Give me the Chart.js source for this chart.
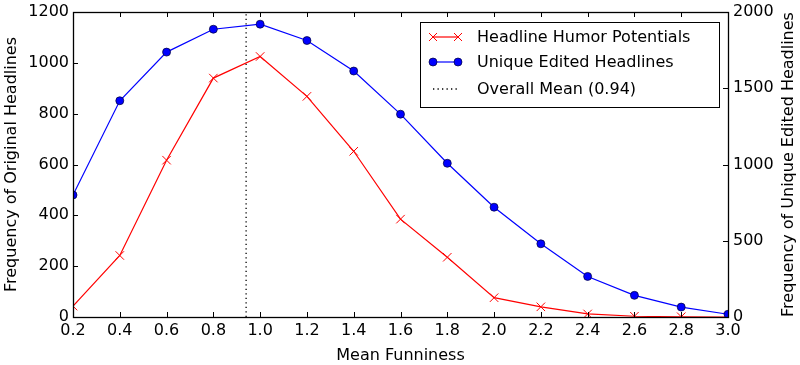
<!DOCTYPE html>
<html>
<head>
<meta charset="utf-8">
<script src="https://cdn.jsdelivr.net/npm/chart.js@4.4.1/dist/chart.umd.min.js"></script>
<style>
  html, body { margin: 0; padding: 0; background: #fff; }
  #wrap { width: 800px; height: 365px; }
</style>
</head>
<body>
<div id="wrap"><canvas id="grafico" width="800" height="365"></canvas></div>
<script>
// valores
const funniness = [0.2, 0.4, 0.6, 0.8, 1.0, 1.2, 1.4, 1.6, 1.8, 2.0, 2.2, 2.4, 2.6, 2.8, 3.0]
const humorPotentials = [43, 242, 617, 940, 1025, 868, 652, 385, 235, 76, 40, 12, 3, 1, 0]
const uniqueEdited = [800, 1418, 1737, 1887, 1920, 1813, 1613, 1330, 1008, 720, 480, 266, 142, 65, 18]
const overallMean = 0.94
const xTicks = [0.2, 0.4, 0.6, 0.8, 1.0, 1.2, 1.4, 1.6, 1.8, 2.0, 2.2, 2.4, 2.6, 2.8, 3.0]
const leftTicks = [0, 200, 400, 600, 800, 1000, 1200]
const rightTicks = [0, 500, 1000, 1500, 2000]
const rightTitle = 'Frequency of Unique Edited Headlines'

const fonte = 'DejaVu Sans'

function pares(xs, ys) {
    let out = []
    for (let i in xs) out.push({x: xs[i], y: ys[i]})
    return out
}

// moldura, ticks para dentro, título da direita e legenda dentro do gráfico
const molduraPlugin = {
    id: 'moldura',
    afterDraw(chart) {
        const ctx = chart.ctx
        const a = chart.chartArea
        const sx = chart.scales.x, sy = chart.scales.y, sy2 = chart.scales.y2
        ctx.save()
        ctx.strokeStyle = '#000'
        ctx.lineWidth = 1
        ctx.beginPath()
        for (let t of xTicks) {
            let px = Math.round(sx.getPixelForValue(t)) + 0.5
            ctx.moveTo(px, a.bottom); ctx.lineTo(px, a.bottom - 5)
            ctx.moveTo(px, a.top); ctx.lineTo(px, a.top + 5)
        }
        for (let t of leftTicks) {
            let py = Math.round(sy.getPixelForValue(t)) + 0.5
            ctx.moveTo(a.left, py); ctx.lineTo(a.left + 5, py)
        }
        for (let t of rightTicks) {
            let py = Math.round(sy2.getPixelForValue(t)) + 0.5
            ctx.moveTo(a.right, py); ctx.lineTo(a.right - 5, py)
        }
        ctx.stroke()
        ctx.lineWidth = 1.3
        ctx.strokeRect(Math.round(a.left) + 0.5, Math.round(a.top) + 0.5, Math.round(a.right - a.left), Math.round(a.bottom - a.top))

        // título do eixo da direita (lido de baixo para cima)
        ctx.save()
        ctx.translate(789, (a.top + a.bottom) / 2)
        ctx.rotate(-Math.PI / 2)
        ctx.font = '16px "' + fonte + '"'
        ctx.fillStyle = '#000'
        ctx.textAlign = 'center'
        ctx.textBaseline = 'middle'
        ctx.fillText(rightTitle, 0, 0)
        ctx.restore()

        // legenda
        const bx = 420.5, by = 22.5, bw = 299, bh = 85
        ctx.fillStyle = '#fff'
        ctx.fillRect(bx, by, bw, bh)
        ctx.lineWidth = 1
        ctx.strokeStyle = '#000'
        ctx.strokeRect(bx, by, bw, bh)
        const linhas = [37, 62, 89]
        const x0 = 433, x1 = 458
        ctx.font = '16px "' + fonte + '"'
        ctx.textBaseline = 'middle'
        ctx.textAlign = 'left'
        chart.data.datasets.forEach((ds, i) => {
            let y = linhas[i]
            ctx.strokeStyle = ds.borderColor
            ctx.lineWidth = ds.borderWidth
            ctx.setLineDash(ds.borderDash || [])
            ctx.beginPath()
            ctx.moveTo(x0, y); ctx.lineTo(x1, y)
            ctx.stroke()
            ctx.setLineDash([])
            ctx.lineWidth = 1
            for (let px of [x0, x1]) {
                if (ds.pointStyle === 'crossRot') {
                    ctx.strokeStyle = ds.borderColor
                    ctx.beginPath()
                    ctx.moveTo(px - 4, y - 4); ctx.lineTo(px + 4, y + 4)
                    ctx.moveTo(px - 4, y + 4); ctx.lineTo(px + 4, y - 4)
                    ctx.stroke()
                } else if (ds.pointStyle === 'circle' && ds.pointRadius > 0) {
                    ctx.fillStyle = ds.pointBackgroundColor
                    ctx.strokeStyle = ds.pointBorderColor
                    ctx.lineWidth = ds.pointBorderWidth
                    ctx.beginPath()
                    ctx.arc(px, y, ds.pointRadius, 0, Math.PI * 2)
                    ctx.fill(); ctx.stroke()
                }
            }
            ctx.fillStyle = '#000'
            ctx.fillText(ds.label, 477, y + 1)
        })
        ctx.restore()
    }
}

const data = {
    datasets: [
        {
            label: 'Headline Humor Potentials',
            data: pares(funniness, humorPotentials),
            yAxisID: 'y',
            borderColor: '#ff0000',
            backgroundColor: '#ff0000',
            borderWidth: 1.2,
            pointStyle: 'crossRot',
            pointRadius: 6,
            pointBorderColor: '#ff0000',
            pointBorderWidth: 1,
            clip: 0,
            order: 2
        },
        {
            label: 'Unique Edited Headlines',
            data: pares(funniness, uniqueEdited),
            yAxisID: 'y2',
            borderColor: '#0000ff',
            backgroundColor: '#0000ff',
            borderWidth: 1.2,
            pointStyle: 'circle',
            pointRadius: 4,
            pointBackgroundColor: '#0000ff',
            pointBorderColor: '#000033',
            pointBorderWidth: 0.7,
            clip: 0,
            order: 1
        },
        {
            label: 'Overall Mean (' + overallMean + ')',
            data: [{x: overallMean, y: 0}, {x: overallMean, y: 1200}],
            yAxisID: 'y',
            borderColor: '#000000',
            borderWidth: 1.3,
            borderDash: [1.3, 3.2],
            pointStyle: false,
            pointRadius: 0,
            clip: 0,
            order: 3
        }
    ]
}

const config = {
    type: 'line',
    data: data,
    options: {
        responsive: false,
        animation: false,
        layout: { padding: { top: 12, left: 0, right: 0, bottom: 0 } },
        plugins: {
            legend: { display: false },
            tooltip: { enabled: false }
        },
        scales: {
            x: {
                type: 'linear',
                min: 0.2,
                max: 3.0,
                afterBuildTicks: (s) => { s.ticks = xTicks.map(v => ({value: v})) },
                afterFit: (s) => { s.height = 48 },
                grid: { display: false, drawTicks: false },
                border: { display: false },
                ticks: {
                    autoSkip: false,
                    maxRotation: 0,
                    padding: 4,
                    color: '#000',
                    font: { family: fonte, size: 16 },
                    callback: (v) => Number(v).toFixed(1)
                },
                title: {
                    display: true,
                    text: 'Mean Funniness',
                    color: '#000',
                    padding: { top: 0, bottom: 0 },
                    font: { family: fonte, size: 16 }
                }
            },
            y: {
                position: 'left',
                min: 0,
                max: 1200,
                afterBuildTicks: (s) => { s.ticks = leftTicks.map(v => ({value: v})) },
                afterFit: (s) => { s.width = 73; s.paddingTop = 0; s.paddingBottom = 0 },
                grid: { display: false, drawTicks: false },
                border: { display: false },
                ticks: {
                    padding: 4,
                    color: '#000',
                    font: { family: fonte, size: 16, lineHeight: 1 },
                    callback: (v) => String(v)
                },
                title: {
                    display: true,
                    text: 'Frequency of Original Headlines',
                    color: '#000',
                    padding: { top: 2, bottom: 0 },
                    font: { family: fonte, size: 16 }
                }
            },
            y2: {
                position: 'right',
                min: 0,
                max: 2000,
                afterBuildTicks: (s) => { s.ticks = rightTicks.map(v => ({value: v})) },
                afterFit: (s) => { s.width = 72; s.paddingTop = 0; s.paddingBottom = 0 },
                grid: { display: false, drawTicks: false },
                border: { display: false },
                ticks: {
                    padding: 5,
                    color: '#000',
                    font: { family: fonte, size: 16, lineHeight: 1 },
                    callback: (v) => String(v)
                },
                title: { display: false }
            }
        }
    },
    plugins: [molduraPlugin]
}

const myChart = new Chart(document.getElementById('grafico'), config)
</script>
</body>
</html>
